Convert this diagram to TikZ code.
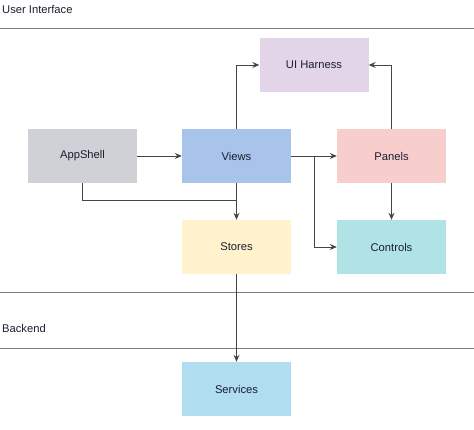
\documentclass[tikz,border=0pt]{standalone}
\usepackage{fontspec}
\setmainfont{Liberation Sans}
\usepackage{xcolor}
\usetikzlibrary{positioning,arrows.meta}

\definecolor{harnessfill}{HTML}{E1D5E7}
\definecolor{shellfill}{HTML}{CFD1D6}
\definecolor{viewsfill}{HTML}{A9C4EB}
\definecolor{panelsfill}{HTML}{F8CECC}
\definecolor{storesfill}{HTML}{FFF2CC}
\definecolor{controlsfill}{HTML}{B0E3E6}
\definecolor{servicesfill}{HTML}{B1DDF0}
\definecolor{textnavy}{HTML}{1B1E2E}
\definecolor{wiregray}{HTML}{444444}
\definecolor{lanegray}{HTML}{808080}

\begin{document}
\begin{tikzpicture}[->,>={Stealth[length=7pt,width=6pt,inset=2.5pt]},x=1pt,y=-1pt,font=\fontsize{11.2}{13}\selectfont,
    box/.style={rectangle,minimum width=109pt,minimum height=54pt,inner sep=0pt,text=textnavy},
    wire/.style={draw=wiregray,line width=0.9pt},
    lane/.style={-,draw=lanegray,line width=0.9pt},
    lanelabel/.style={anchor=west,inner sep=0pt,text=textnavy}]

    \useasboundingbox (0,0) rectangle (474,430);

    % Lanes
    \draw[lane] (0,28) -- (474,28);
    \draw[lane] (0,292) -- (474,292);
    \draw[lane] (0,348) -- (474,348);
    \node [lanelabel] at (2,10) (ui) {User Interface};
    \node [lanelabel] at (2,328) (be) {Backend};

    % The graph
    \node [box,fill=harnessfill] at (314,65) (H) {UI Harness};
    \node [box,fill=shellfill] at (82.5,156) (A) {AppShell};
    \node [box,fill=viewsfill] at (236.5,156) (V) {Views};
    \node [box,fill=panelsfill] at (391.5,156) (P) {Panels};
    \node [box,fill=storesfill] at (236.5,247) (S) {Stores};
    \node [box,fill=controlsfill] at (391.5,247) (C) {Controls};
    \node [box,fill=servicesfill] at (236.5,389) (Sv) {Services};

    \coordinate (split) at (314,156);
    \coordinate (merge) at (236.5,200);

    % Graph edges
    \draw[wire] (V.north) |- (H.west);
    \draw[wire] (P.north) |- (H.east);
    \draw[wire] (A) -- (V);
    \draw[wire] (V) -- (P);
    \draw[wire] (split) |- (C.west);
    \draw[wire,-] (A.south) |- (merge);
    \draw[wire] (V) -- (S);
    \draw[wire] (P) -- (C);
    \draw[wire] (S) -- (Sv);

\end{tikzpicture}
\end{document}
